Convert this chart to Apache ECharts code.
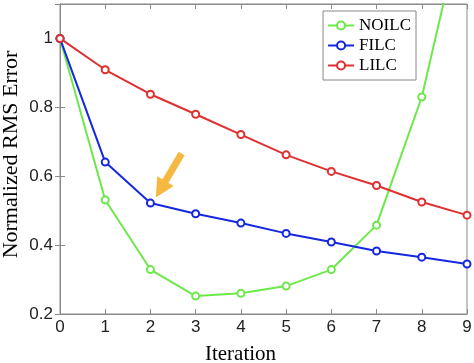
<!DOCTYPE html>
<html><head><meta charset="utf-8">
<script src="https://cdn.jsdelivr.net/npm/echarts@6/dist/echarts.min.js"></script>
<style>html,body{margin:0;padding:0;background:#fff}#c{width:474px;height:363px}</style>
</head><body><div id="c"></div>
<script>
const iterations = [0,1,2,3,4,5,6,7,8,9];
const noilc = [1.0,0.531,0.329,0.252,0.260,0.281,0.329,0.458,0.830,1.397];
const filc  = [1.0,0.641,0.522,0.491,0.464,0.434,0.409,0.383,0.365,0.345];
const lilc  = [1.0,0.909,0.838,0.780,0.721,0.662,0.614,0.573,0.525,0.487];
const yTicks = [0.2,0.4,0.6,0.8,1.0];
const arrowFrom = [2.69,0.666];
const arrowTo = [2.225,0.562];

const pair = (arr) => iterations.map((x,i)=>[x,arr[i]]);
const axisGray = '#8a8a8a';
const serif = '"Liberation Serif","Times New Roman",serif';
const sans = '"Liberation Sans",Arial,sans-serif';

function mkSeries(name, data, color){
  return {
    name, type:'line', data:pair(data), symbol:'emptyCircle', symbolSize:7,
    lineStyle:{color, width:2}, itemStyle:{color, borderColor:color, borderWidth:1.5},
    clip:true, z: 3
  };
}
const sN = mkSeries('NOILC', noilc, '#6de84a');
const sF = mkSeries('FILC', filc, '#1528e0');
const sL = mkSeries('LILC', lilc, '#e03030');
sF.markLine = {
  silent:true, symbol:['none','triangle'], symbolSize:[19,19],
  label:{show:false},
  lineStyle:{color:'#f5b841', width:7, type:'solid'},
  data:[[{coord:arrowFrom},{coord:arrowTo}]]
};

const chart = echarts.init(document.getElementById('c'));
chart.setOption({
  animation:false,
  backgroundColor:'#fff',
  grid:{left:60, right:7, top:4, bottom:49, show:true, borderColor:axisGray, borderWidth:1,
        containLabel:false, outerBoundsMode:'none'},
  legend:{
    data:['NOILC','FILC','LILC'], orient:'vertical', right:58, top:11,
    backgroundColor:'#fff', borderColor:'#888', borderWidth:1, padding:[6,5,6,4],
    itemWidth:26, itemHeight:10, itemGap:3,
    textStyle:{fontFamily:serif, fontSize:17, color:'#000'}
  },
  xAxis:[{
    type:'value', min:0, max:9, interval:1,
    name:'Iteration', nameLocation:'middle', nameGap:30,
    nameTextStyle:{fontFamily:serif, fontSize:21, color:'#000', padding:[0,46,0,0]},
    axisLine:{show:true, lineStyle:{color:axisGray}},
    axisTick:{show:true, inside:true, length:5, lineStyle:{color:axisGray}},
    axisLabel:{fontFamily:sans, fontSize:17, color:'#222', margin:5},
    splitLine:{show:false}
  },{
    type:'value', position:'top', min:0, max:9, interval:1,
    axisLine:{show:true, lineStyle:{color:axisGray}},
    axisTick:{show:true, inside:true, length:5, lineStyle:{color:axisGray}},
    axisLabel:{show:false}, splitLine:{show:false}
  }],
  yAxis:[{
    type:'value', min:0.2, max:1.1, interval:0.2,
    name:'Normalized RMS Error', nameLocation:'middle', nameGap:38, nameMoveOverlap:false,
    nameTextStyle:{fontFamily:serif, fontSize:22, color:'#000', padding:[0,0,0,9]},
    axisLine:{show:true, lineStyle:{color:axisGray}},
    axisTick:{show:true, inside:true, length:5, lineStyle:{color:axisGray}},
    axisLabel:{fontFamily:sans, fontSize:17, color:'#222', margin:7,
      formatter:(v)=> yTicks.some(t=>Math.abs(t-v)<1e-6) ? (Math.abs(v-1)<1e-6?'1':v.toFixed(1)) : ''},
    splitLine:{show:false}
  },{
    type:'value', position:'right', min:0.2, max:1.1, interval:0.2,
    axisLine:{show:true, lineStyle:{color:axisGray}},
    axisTick:{show:true, inside:true, length:5, lineStyle:{color:axisGray}},
    axisLabel:{show:false}, splitLine:{show:false}
  }],
  series:[sN, sF, sL]
});
</script></body></html>
